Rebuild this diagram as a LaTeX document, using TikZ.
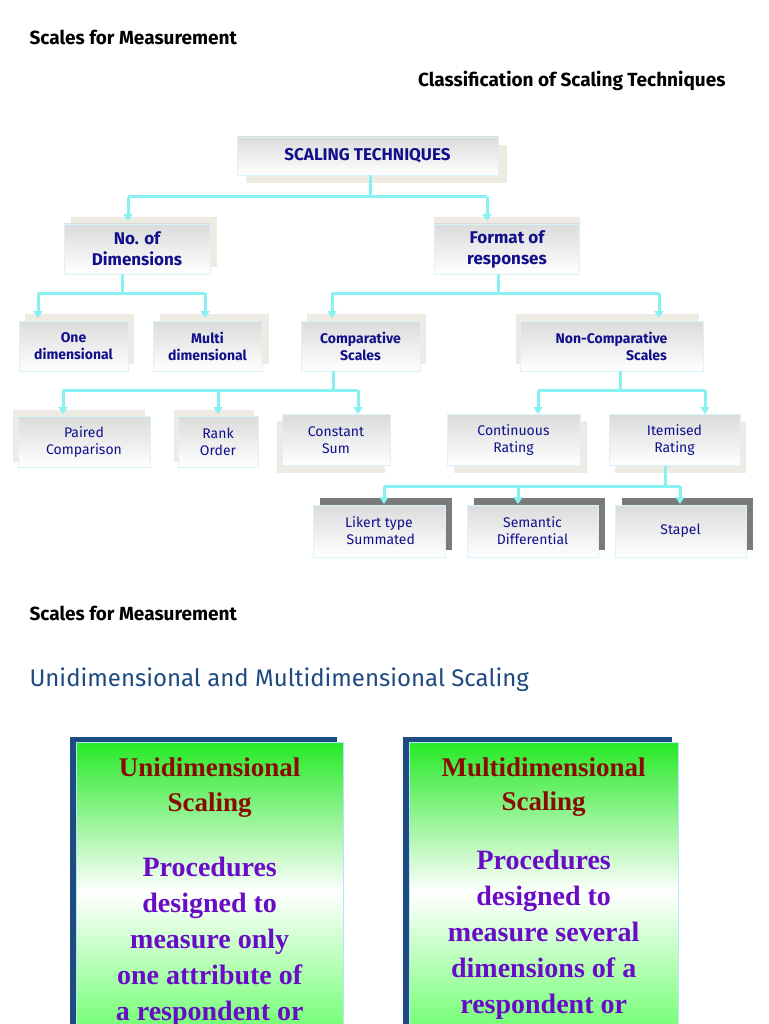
\documentclass[tikz,border=0pt]{standalone}
\usepackage{fontspec}
\setmainfont{Liberation Serif}
\newfontfamily\boxfont{Fira Sans}
\newfontfamily\titfont{Fira Sans}
\usetikzlibrary{backgrounds,calc,arrows.meta}
\definecolor{navy}{HTML}{10108A}
\definecolor{conn}{HTML}{88F2F2}
\definecolor{beige}{HTML}{EEEBE2}
\definecolor{dkred}{HTML}{8B0A00}
\definecolor{purp}{HTML}{6A0BC8}
\definecolor{hblue}{HTML}{1F4A80}
\definecolor{sblue}{HTML}{1E4B80}
\definecolor{gshadow}{HTML}{7A7A7A}
\tikzset{
 gbox/.style={draw=cyan!15,line width=0.8pt,top color=gray!28,bottom color=white,text=navy,font=\boxfont\bfseries\fontsize{14}{17}\selectfont,align=center,inner sep=0pt},
 big/.style={font=\boxfont\bfseries\fontsize{17}{21}\selectfont},
 reg/.style={font=\boxfont\fontsize{14}{17}\selectfont},
 conline/.style={conn,line width=3pt},
 arr/.style={conn,line width=3pt,-{Triangle[length=7pt,width=9pt]}},
 gtitle/.style={font=\titfont\bfseries\fontsize{19}{21}\selectfont,anchor=west},
 grn/.style={top color=green!90!black!85,bottom color=green!60,middle color=white,draw=cyan!30,inner sep=0pt}
}
\newcommand{\gb}[8]{%
 \node[gbox,minimum width=#3,minimum height=#4,#7] (#1) at (#2) {#8};
 \begin{pgfonlayer}{background}
 \fill[#6] ($(#1.south west)+(#5)$) rectangle ($(#1.north east)+(#5)$);
 \end{pgfonlayer}}
\begin{document}
\begin{tikzpicture}[x=1pt,y=-1pt]
\useasboundingbox (0,0) rectangle (768,1024);
\begin{pgfonlayer}{background}
\fill[white] (0,0) rectangle (768,1024);
\end{pgfonlayer}
\node[gtitle] (t1) at (26,37) {Scales for Measurement};
\node[gtitle,anchor=east] (t2) at (729,81) {Classification of Scaling Techniques};
\node[gtitle] (t3) at (26,613) {Scales for Measurement};
\node[anchor=west,text=hblue,font=\boxfont\fontsize{24}{28}\selectfont] (t4) at (26,680) {Unidimensional and Multidimensional Scaling};

\gb{root}{367.5,156}{261}{38}{9,8}{beige}{big}{SCALING TECHNIQUES}
\gb{nod}{137,249}{146}{50}{7,-7}{beige}{big}{No. of\\Dimensions}
\gb{fmt}{507,249}{145}{50}{0,-7}{beige}{big}{Format of\\responses}
\gb{one}{73.5,346}{109}{50}{6,-7}{beige}{}{One\\dimensional}
\gb{mul}{207.5,346}{109}{50}{7,-7}{beige}{}{Multi\\dimensional}
\gb{cmp}{360.5,346}{119}{50}{6,-7}{beige}{}{Comparative\\Scales}
\gb{ncp}{611.5,346}{183}{50}{-4,-7}{beige}{}{Non-Comparative\\\hspace*{5em}Scales}
\gb{pai}{84,442}{132}{51}{-5,-6}{beige}{reg}{Paired\\Comparison}
\gb{ran}{218,442}{80}{51}{-4,-6}{beige}{reg}{Rank\\Order}
\gb{con}{336,440}{108}{51}{-5,7}{beige}{reg}{Constant\\Sum}
\gb{cti}{513.5,440}{133}{51}{7,7}{beige}{reg}{Continuous\\Rating}
\gb{ite}{674.5,440}{131}{51}{6,7}{beige}{reg}{Itemised\\Rating}
\gb{lik}{379,531}{132}{52}{7,-7}{gshadow}{reg}{Likert type\\\ Summated}
\gb{sem}{532.5,531}{131}{52}{7,-7}{gshadow}{reg}{Semantic\\Differential}
\gb{sta}{680.5,531}{131}{52}{7,-7}{gshadow}{reg}{Stapel}

\coordinate (r1) at (370,197);
\draw[conline] (root.south -| r1) -- (r1);
\draw[conline] (128,197) -- (487,197);
\draw[arr] (128,197) -- (128,221);
\draw[arr] (487,197) -- (487,221);
\coordinate (n1) at (122,293);
\draw[conline] (nod.south -| n1) -- (n1);
\draw[conline] (38,293) -- (205,293);
\draw[arr] (38,293) -- (38,318);
\draw[arr] (205,293) -- (205,318);
\coordinate (f1) at (498,293);
\draw[conline] (fmt.south -| f1) -- (f1);
\draw[conline] (332,293) -- (659,293);
\draw[arr] (332,293) -- (332,318);
\draw[arr] (659,293) -- (659,318);
\coordinate (c1) at (333,390);
\draw[conline] (cmp.south -| c1) -- (c1);
\draw[conline] (63,390) -- (358,390);
\draw[arr] (63,390) -- (63,414);
\draw[arr] (218,390) -- (218,414);
\draw[arr] (358,390) -- (358,414);
\coordinate (q1) at (620,390);
\draw[conline] (ncp.south -| q1) -- (q1);
\draw[conline] (538,390) -- (705,390);
\draw[arr] (538,390) -- (538,414);
\draw[arr] (705,390) -- (705,414);
\coordinate (i1) at (665,486);
\draw[conline] (ite.south -| i1) -- (i1);
\draw[conline] (384,486) -- (680,486);
\draw[arr] (384,486) -- (384,504);
\draw[arr] (518,486) -- (518,504);
\draw[arr] (680,486) -- (680,504);

% green boxes
\fill[sblue] (70,737) rectangle (337,1024);
\node[grn,anchor=north west,minimum width=267,minimum height=300] (gl) at (76,742) {};
\fill[sblue] (403,737) rectangle (672,1024);
\node[grn,anchor=north west,minimum width=269,minimum height=300] (gr) at (409,742) {};
\node[text=dkred,font=\bfseries\fontsize{27}{35}\selectfont,align=center,anchor=north] (glt) at ($(gl.north)+(0,12)$) {Unidimensional\\Scaling};
\node[text=purp,font=\bfseries\fontsize{28}{35.8}\selectfont,align=center,anchor=north] (glb) at ($(gl.north)+(0,112)$) {Procedures\\designed to\\measure only\\one attribute of\\a respondent or};
\node[text=dkred,font=\bfseries\fontsize{27}{34}\selectfont,align=center,anchor=north] (grt) at ($(gr.north)+(0,12)$) {Multidimensional\\Scaling};
\node[text=purp,font=\bfseries\fontsize{28}{36}\selectfont,align=center,anchor=north] (grb) at ($(gr.north)+(0,105)$) {Procedures\\designed to\\measure several\\dimensions of a\\respondent or};
\end{tikzpicture}
\end{document}
